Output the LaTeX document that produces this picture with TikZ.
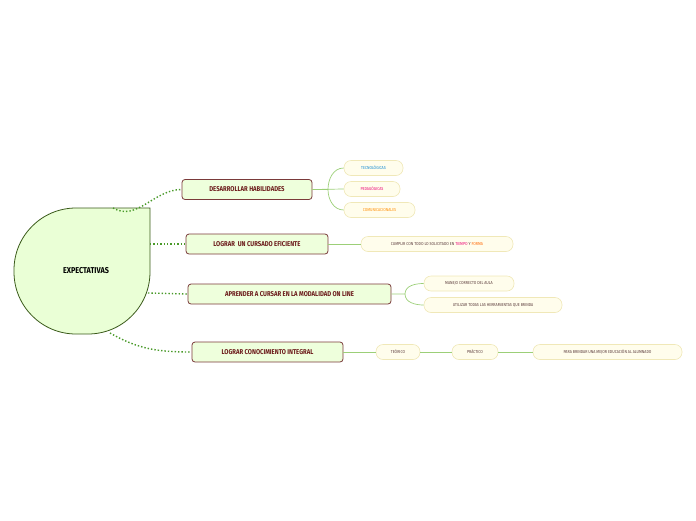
\documentclass[tikz,border=0pt]{standalone}
\usepackage{fontspec}
\setmainfont{Fira Sans}[FakeStretch=0.85]
\begin{document}
\begin{tikzpicture}[x=1pt,y=-1pt,
 main/.style={draw=mainb,fill=mainf,line width=0.8pt,rounded corners=3pt,minimum height=20pt,inner sep=0pt,font=\fontsize{7}{8}\selectfont\bfseries,text=maint},
 leaf/.style={draw=leafb,fill=leaff,line width=0.6pt,rounded corners=7pt,minimum height=15pt,inner sep=0pt,font=\fontsize{4.3}{5}\selectfont,text=leaft},
 dot/.style={draw=dotg,line width=1.4pt,dotted},
 con/.style={draw=cong,line width=0.7pt}]
\definecolor{mainb}{HTML}{7A3A3A}\definecolor{mainf}{HTML}{EEFFDC}\definecolor{maint}{HTML}{6B1A1A}
\definecolor{leafb}{HTML}{F0E8B8}\definecolor{leaff}{HTML}{FFFDEC}\definecolor{leaft}{HTML}{5A3A3A}
\definecolor{dotg}{HTML}{4A9A2A}\definecolor{cong}{HTML}{9CCF78}
\definecolor{cen}{HTML}{EAFFD6}\definecolor{cenb}{HTML}{3A5A1A}
\useasboundingbox (0,0) rectangle (696,520);
% central
\draw[fill=cen,draw=cenb,line width=0.8pt] (150,208) -- (150,271) [rounded corners=62pt] -- (150,334) -- (14,334) -- (14,208) [sharp corners] -- cycle;
\node[font=\fontsize{8.5}{10}\selectfont\bfseries] (c) at (86,271) {EXPECTATIVAS};
\coordinate (c1) at (113,208); \coordinate (c2) at (150,244);
\coordinate (c3) at (148,293); \coordinate (c4) at (110,333);
% mains
\node[main,minimum width=130pt] (m1) at (247,189.5) {DESARROLLAR HABILIDADES};
\node[main,minimum width=142pt] (m2) at (257,244) {LOGRAR\ \ UN CURSADO EFICIENTE};
\node[main,minimum width=203pt] (m3) at (289.5,294) {APRENDER A CURSAR EN LA MODALIDAD ON LINE};
\node[main,minimum width=151pt] (m4) at (267.5,352) {LOGRAR CONOCIMIENTO INTEGRAL};
\draw[dot] (c1) to[out=-30,in=180] (m1.west);
\draw[dot] (c2) -- (m2.west);
\draw[dot] (c3) -- (m3.west);
\draw[dot] (c4) to[out=-30,in=180] (m4.west);
% leaves
\node[leaf,minimum width=59pt,text=cyan!70!blue] (t) at (373.5,168) {TECNOLÓGICAS};
\node[leaf,minimum width=56pt,text=magenta!80!red] (p) at (372,189) {PEDAGÓGICAS};
\node[leaf,minimum width=71pt,text=orange!90!yellow] (co) at (379.5,210) {COMUNICACIONALES};
\node[leaf,minimum width=152pt] (cu) at (437,244) {CUMPLIR CON TODO LO SOLICITADO EN \textcolor{magenta!80!red}{TIEMPO} Y \textcolor{orange!80!red}{FORMA}};
\node[leaf,minimum width=90pt] (ma) at (469,283.5) {MANEJO CORRECTO DEL AULA};
\node[leaf,minimum width=138pt] (ut) at (493,305) {UTILIZAR TODAS LAS HERRAMIENTAS QUE BRINDA};
\node[leaf,minimum width=44pt] (te) at (398,352) {TEÓRICO};
\node[leaf,minimum width=46pt] (pr) at (475,352) {PRÁCTICO};
\node[leaf,minimum width=149pt] (pa) at (607.5,352) {PARA BRINDAR UNA MEJOR EDUCACIÓN AL ALUMNADO};
\draw[con] (m1.east) -- (328,189.5) to[out=90,in=180] (t.west);
\draw[con] (m1.east) -- (p.west);
\draw[con] (328,189.5) to[out=-90,in=180] (co.west);
\draw[con] (m2.east) -- (cu.west);
\draw[con] (m3.east) -- (405,294) to[out=90,in=180] (ma.west);
\draw[con] (405,294) to[out=-90,in=180] (ut.west);
\draw[con] (m4.east) -- (te.west);
\draw[con] (te.east) -- (pr.west);
\draw[con] (pr.east) -- (pa.west);
\end{tikzpicture}
\end{document}
